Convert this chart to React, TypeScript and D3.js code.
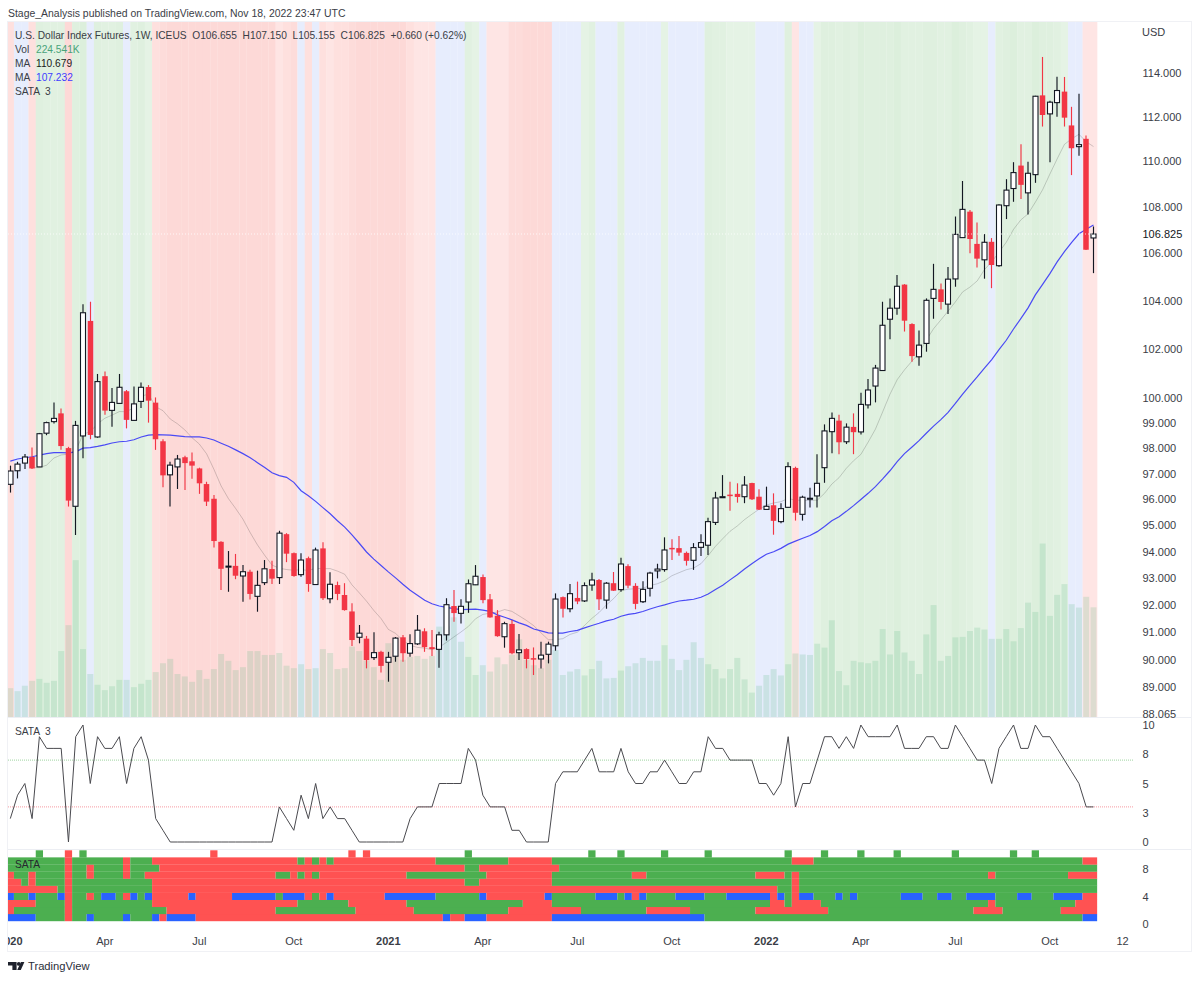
import React from "react";
import * as d3 from "d3";

const title = "Stage_Analysis published on TradingView.com, Nov 18, 2022 23:47 UTC";
const headerLine = "U.S. Dollar Index Futures, 1W, ICEUS  O106.655  H107.150  L105.155  C106.825  +0.660 (+0.62%)";

const opens = [96.58,97.11,97.41,97.65,97.26,98.59,99.05,99.38,98.00,95.73,
98.48,103.15,98.44,100.88,99.50,99.78,100.27,99.10,99.86,100.44,
99.81,98.27,96.95,97.26,97.64,97.48,97.20,96.59,96.02,94.37,
93.42,93.46,93.08,93.24,92.32,92.83,93.34,93.02,94.66,93.94,
93.13,93.75,92.76,94.12,92.23,92.74,92.37,91.76,90.81,90.76,
90.07,90.28,89.90,90.12,90.81,90.23,90.57,91.03,90.45,90.37,
90.90,91.96,91.69,92.11,92.75,93.04,92.21,91.60,90.83,91.30,
90.25,90.38,90.05,90.02,90.19,90.50,92.29,91.86,92.26,92.15,
92.74,92.93,92.18,92.81,92.57,93.45,92.71,92.12,92.62,93.27,
93.32,94.14,94.13,93.95,93.67,94.16,94.24,95.11,96.08,96.18,
96.21,96.10,96.63,96.10,95.61,95.77,95.14,95.69,97.22,95.42,
96.02,96.13,97.23,98.65,99.09,98.25,98.84,98.64,99.72,100.48,
101.11,103.22,103.68,104.67,103.02,101.67,102.22,104.09,104.47,103.85,
104.91,106.67,107.79,106.40,105.72,106.49,105.47,108.05,108.80,109.81,
108.61,109.41,112.96,112.12,112.63,113.13,111.60,110.65,111.00,106.655];

const closes = [97.10,97.37,97.65,97.20,98.57,99.01,99.18,98.08,95.95,98.90,
103.49,98.52,100.66,99.49,99.82,100.43,99.12,99.76,100.43,99.89,
98.35,96.93,97.33,97.57,97.41,97.31,96.62,95.91,94.40,93.35,
93.45,93.09,93.24,92.41,92.73,93.35,92.98,94.70,93.92,93.08,
93.68,92.78,94.06,92.25,92.77,92.41,91.81,90.71,90.96,89.98,
90.25,89.77,90.08,90.78,90.23,90.58,91.07,90.45,90.38,90.90,
92.01,91.70,91.95,92.79,93.07,92.18,91.54,90.85,91.31,90.23,
90.35,90.02,90.02,90.16,90.56,92.22,91.86,92.42,92.13,92.72,
92.93,92.21,92.81,92.53,93.53,92.72,92.04,92.58,93.19,93.34,
94.06,94.10,93.96,93.65,94.15,94.34,95.14,96.05,96.10,96.15,
96.09,96.55,96.00,95.60,95.73,95.17,95.64,97.27,95.48,96.08,
96.04,96.62,98.68,99.18,98.23,98.83,98.63,99.74,100.32,101.21,
102.97,103.68,104.60,103.16,101.70,102.15,104.01,104.47,103.94,104.90,
106.81,107.89,106.61,105.77,106.47,105.50,108.08,108.73,109.50,108.96,
109.47,112.92,112.07,112.65,113.18,111.95,110.58,110.74,106.15,106.825];

const highs = [97.31,97.46,97.77,98.02,98.60,99.05,99.82,99.58,98.05,99.08,
103.84,103.95,100.97,101.07,100.40,100.97,100.32,100.46,100.62,100.52,
100.02,98.35,97.46,97.73,97.70,97.83,97.23,96.68,96.17,94.39,
94.02,93.91,93.49,93.31,93.28,93.68,93.65,94.79,94.70,93.96,
93.94,93.81,94.15,94.35,93.22,92.87,92.81,92.06,91.26,90.86,
90.99,90.32,90.28,90.82,90.89,90.92,91.63,91.14,91.08,91.01,
92.25,92.56,92.21,92.95,93.49,93.14,92.41,91.81,91.38,91.44,
90.93,90.41,90.44,90.65,90.65,92.43,92.31,92.78,92.87,92.84,
93.20,92.97,92.85,93.23,93.77,93.52,92.81,92.88,93.24,93.54,
94.54,94.47,94.59,94.00,94.32,94.66,95.29,96.29,96.94,96.68,
96.62,96.90,96.64,96.39,96.49,96.23,95.85,97.44,97.27,96.14,
96.45,97.76,98.94,99.42,99.32,98.98,99.38,100.21,100.77,101.34,
103.95,104.09,105.08,104.69,103.05,102.75,104.09,105.55,104.72,105.42,
107.58,109.13,107.86,107.32,106.82,106.65,108.11,109.21,109.96,110.76,
109.98,112.94,114.72,112.71,113.81,113.80,112.44,113.03,111.15,107.15];

const lows = [96.26,96.81,97.18,97.18,97.26,98.51,98.98,97.93,95.72,94.63,
97.60,98.35,98.41,99.32,98.85,99.76,98.78,99.09,99.60,99.01,
97.93,96.47,95.72,96.40,96.36,96.80,96.21,95.74,94.15,92.56,
92.49,92.96,92.12,92.20,91.75,92.74,92.78,92.78,93.60,93.05,
93.05,92.49,92.75,92.18,92.06,92.18,91.79,90.49,90.59,89.68,
89.98,89.53,89.20,89.92,89.92,90.10,90.53,90.28,90.13,89.70,
90.69,91.38,91.32,91.71,92.74,92.06,91.53,90.83,90.43,90.19,
89.98,89.68,89.44,89.68,89.86,90.32,91.54,91.73,92.03,92.11,
92.53,91.81,91.86,92.52,92.49,92.62,91.84,92.07,92.31,92.99,
93.24,93.68,93.84,93.47,93.31,93.83,93.87,95.01,96.05,95.56,
95.87,95.85,95.97,95.59,95.60,94.64,95.08,95.67,95.18,95.18,
95.68,95.68,96.64,97.80,97.76,98.16,97.76,98.54,99.58,99.82,
101.09,102.39,103.41,102.71,101.47,101.30,101.88,103.24,103.63,103.44,
104.58,106.67,106.00,105.39,104.92,104.52,105.43,107.47,108.22,108.34,
107.67,109.05,111.55,109.96,111.99,111.55,109.39,110.25,106.14,105.155];

const volumesK = [59,53,64,74,78,70,74,135,188,321,
139,88,66,55,63,76,76,61,68,76,
92,110,119,88,83,72,96,78,98,129,
115,96,102,135,135,127,127,131,105,100,
108,98,100,139,131,98,100,144,135,115,
102,76,151,127,117,123,125,119,125,185,
186,204,154,123,86,106,93,122,108,127,
159,117,106,100,117,137,86,93,98,85,
98,115,79,80,95,104,110,121,115,115,
147,119,96,117,153,121,108,98,79,98,
121,77,50,64,86,98,85,108,130,128,
127,150,142,198,94,65,115,112,110,115,
180,128,176,132,115,88,169,229,115,125,
163,164,176,183,179,160,160,180,155,182,
234,215,355,207,250,272,231,224,246,224.541];

const sataScores = [2,4,5,2,9,8,8,8,0,9,
10,5,9,8,8,9,5,8,9,7,
2,1,0,0,0,0,0,0,0,0,
0,0,0,0,0,0,0,3,2,1,
4,2,5,2,3,2,2,1,0,0,
0,0,0,0,0,2,3,3,3,5,
5,5,5,8,7,4,3,3,3,1,
1,0,0,0,0,5,6,6,6,7,
8,6,6,6,8,6,5,5,6,6,
7,6,5,5,6,6,9,8,8,7,
7,7,7,5,5,4,5,9,3,5,
5,7,9,9,8,9,8,10,9,9,
9,9,10,8,8,8,9,9,8,8,
10,9,8,7,7,5,8,9,10,8,
8,10,9,9,8,7,6,5,3,3];

// Early moving-average values (their history lies before the first bar).
const slowMaEarly = [97.49,97.57,97.62,97.66,97.72,97.78,97.82,97.82,97.81,97.85,
98.0,98.02,98.07,98.13,98.20,98.25,98.27,98.33,98.44,98.51,
98.53,98.52,98.51,98.48,98.45,98.44,98.44,98.40,98.32];
const fastMaEarly = [NaN,NaN,NaN,97.23,97.23,97.33,97.61,97.73,97.76];

// SATA heat map: rows from bottom (0) to top (9), runs of bar indexes
const heatRows = [
  "b0-3 g4-7 r8 g9-10 b11 g12-15 b16 g17-19 b20 r21 b22-25 r26-59 b60 r61-62 b63-65 r66-74 b75-95 g96-147 b148-149",
  "r0 g1-7 r8 g9-21 r22-36 g37-47 r48-55 g56-68 r69-78 g79-87 r88-93 g94-102 r103-112 g113-132 r133-136 g137-144 r145-149",
  "r0-3 g4-7 r8 g9-19 r20-39 g40-46 r47-54 g55-70 r71-74 g75-104 r105-106 g107 r108-111 g112-134 r135 g136-146 r147-149",
  "b0 g1-2 b3 g4-6 b7 r8 g9-10 r11 g12 b13-14 g15 r16 b17 g18 b19 r20-24 b25 r26-30 b31-36 g37 b38-40 r41 g42 r43 b44 r45-51 b52-58 g59-64 b65 r66-73 b74 g75-80 b81-83 g84 b85 r86 b87 g88-91 b92-95 g96-98 b99-104 r105 b106 g107 r108 b109-110 g111-113 b114 g115 b116 g117-122 b123-125 g126-127 b128-129 g130-131 b132-135 g136-138 b139-140 g141-143 b144-147 r148-149",
  "r0-6 g7 r8 g9-19 r20-105 g106-107 r108 g109-149",
  "r0-1 g2 r3 g4-7 r8 g9-19 r20-62 g63-64 r65-74 g75-107 r108 g109-149",
  "r0 g1-2 r3 g4-7 r8 g9-10 r11 g12-15 r16 g17-18 r19-36 g37-38 r39 g40 r41 g42 r43-54 g55-65 r66-74 g75-85 r86-87 g88-102 r103-106 g107 r108 g109-134 r135 g136-145 r146-149",
  "g0-7 r8 g9-10 r11 g12-15 r16 g17-20 r21-62 g63-64 r65-75 g76-149",
  "g0-7 r8 g9-15 r16 g17-19 r20-39 g40 r41 g42 r43 g44 r45-58 g59-68 r69-74 g75-107 r108-110 g111-147 r148-149",
  "g4 r8 g10 r28 r47 r49 g63 g80 g84 g90 g96 g107 g112 g117 g122 g130 g138 g141",
];

const priceTicks = [114, 112, 110, 108, 106, 104, 102, 100, 99, 98, 97, 96, 95, 94, 93, 92, 91, 90, 89, 88.065];
const lastPrice = 106.825;
const sataTicks = [[10, "10"], [7.5, "8"], [5, "5"], [2.5, "3"], [0, "0"]] as [number, string][];
const heatTicks = [8, 4, 0];
const timeTicks = [[0, "2020", true], [13, "Apr", false], [26, "Jul", false], [39, "Oct", false], [52, "2021", true], [65, "Apr", false], [78, "Jul", false], [91, "Oct", false], [104, "2022", true], [117, "Apr", false], [130, "Jul", false], [143, "Oct", false], [153, "12", false]] as [number, string, boolean][];

const UP = "#131722", DOWN = "#f23645", HEAT: Record<string, string> = { g: "#4caf50", r: "#ff5252", b: "#2962ff" };
const FONT = "'Liberation Sans', Arial, sans-serif";
const TXT = "#3a3d46";

const x = d3.scaleLinear().domain([0, 149]).range([10.3, 1093.5]);
const step = x(1) - x(0);
const yP = d3.scaleLog().domain([88.065, 114]).range([713.5, 72.6]);
const yV = d3.scaleLinear().domain([0, 224.541]).range([717, 607.3]);
const yS = d3.scaleLinear().domain([0, 10]).range([842, 725]);
const yH = d3.scaleLinear().domain([0, 10]).range([921, 850.3]);
const yHLabel = d3.scaleLinear().domain([0, 8]).range([924, 869]);

function bgColor(s: number) {
  if (s <= 3) return ["#fdd9d7", "#fddcda", "#fee0de", "#fee5e4"][s];
  if (s >= 7) return ["#e5f3e5", "#e1f1e1", "#dff0df", "#dcefdc"][s - 7];
  return "#e7edfd";
}
function sma(n: number, i: number, early: number[]) {
  if (i < n - 1) return early[i];
  return d3.mean(closes.slice(i - n + 1, i + 1)) as number;
}
const parseRuns = (row: string) =>
  row.split(" ").map((t) => {
    const [a, b] = t.slice(1).split("-").map(Number);
    return { c: t[0], from: a, to: b === undefined ? a : b };
  });

export default function App() {
  const idx = d3.range(closes.length);
  const lineMA = d3.line<number>().defined((v) => !isNaN(v)).x((_, i) => x(i)).y((v) => yP(v));
  const slow = idx.map((i) => sma(30, i, slowMaEarly));
  const fast = idx.map((i) => sma(10, i, fastMaEarly));
  const sataLine = d3.line<number>().x((_, i) => x(i)).y((v) => yS(v));
  const txt = (p: any) => ({ fontFamily: FONT, fontSize: 11, fill: TXT, ...p });
  const leg = (p: any) => txt({ fontSize: 10.2, ...p });
  return (
    <svg width={1200} height={981} style={{ position: "absolute", left: 0, top: 0, background: "#fff" }}>
      <defs>
        <clipPath id="main"><rect x={8} y={22} width={1126} height={695} /></clipPath>
        <clipPath id="sub"><rect x={8} y={718} width={1126} height={131} /></clipPath>
        <clipPath id="heat"><rect x={8} y={850} width={1126} height={72} /></clipPath>
        <clipPath id="time"><rect x={8} y={925} width={1126} height={25} /></clipPath>
      </defs>
      <text {...txt({ x: 8, y: 17, fontSize: 10.45 })}>{title}</text>

      <rect x={7.5} y={21.5} width={1184} height={930} fill="none" stroke="#f0f1f5" />
      <line x1={8} x2={1191} y1={717.5} y2={717.5} stroke="#eceef3" />
      <line x1={8} x2={1191} y1={849.5} y2={849.5} stroke="#eceef3" />

      <g clipPath="url(#main)">
        {idx.map((i) => (
          <rect key={i} x={x(i) - step / 2} y={22} width={step + 0.2} height={695} fill={bgColor(sataScores[i])} />
        ))}
        {idx.map((i) => (
          <rect key={i} x={x(i) - 3} y={yV(volumesK[i])} width={6} height={717 - yV(volumesK[i])} fill="rgba(90,185,130,0.2)" />
        ))}
        <path d={lineMA(fast) || ""} fill="none" stroke="rgba(30,30,30,0.2)" strokeWidth={1} />
        <path d={lineMA(slow) || ""} fill="none" stroke="#4a4af5" strokeWidth={1.2} />
        {idx.map((i) => {
          const up = closes[i] >= opens[i];
          const col = up ? UP : DOWN;
          const top = yP(Math.max(opens[i], closes[i]));
          const bot = yP(Math.min(opens[i], closes[i]));
          const cx = Math.round(x(i) * 2) / 2;
          return (
            <g key={i}>
              <line x1={cx} x2={cx} y1={yP(highs[i])} y2={yP(lows[i])} stroke={col} strokeWidth={1.15} />
              {up ? (
                <rect x={cx - 2.5} y={top} width={5} height={Math.max(bot - top, 1)} fill="#fff" stroke={UP} strokeWidth={1.1} />
              ) : (
                <rect x={cx - 2.75} y={top} width={5.5} height={Math.max(bot - top, 1.5)} fill={DOWN} />
              )}
            </g>
          );
        })}
        <line x1={8} x2={1134} y1={yP(lastPrice)} y2={yP(lastPrice)} stroke="#fff" strokeDasharray="1 2" strokeOpacity={0.8} />
      </g>

      <text {...leg({ x: 15, y: 39 })} style={{ whiteSpace: "pre" }}>{headerLine}</text>
      <text {...leg({ x: 15, y: 53 })}>Vol</text>
      <text {...leg({ x: 36, y: 53, fill: "#4aa37a" })}>224.541K</text>
      <text {...leg({ x: 15, y: 67 })}>MA</text>
      <text {...leg({ x: 36, y: 67, fill: "#1a1a1a" })}>110.679</text>
      <text {...leg({ x: 15, y: 81 })}>MA</text>
      <text {...leg({ x: 36, y: 81, fill: "#3d3dff" })}>107.232</text>
      <text {...leg({ x: 15, y: 95 })}>SATA</text>
      <text {...leg({ x: 45, y: 95 })}>3</text>

      <text {...txt({ x: 1142, y: 36 })}>USD</text>
      {priceTicks.map((t) => (
        <text key={t} {...txt({ x: 1142.5, y: yP(t) + 4 })}>{t.toFixed(3)}</text>
      ))}
      <text {...txt({ x: 1142.5, y: yP(lastPrice) + 4, fill: "#131722" })}>{lastPrice.toFixed(3)}</text>

      <g clipPath="url(#sub)">
        <line x1={8} x2={1134} y1={yS(7)} y2={yS(7)} stroke="#4caf50" strokeOpacity={0.55} strokeDasharray="1 1" />
        <line x1={8} x2={1134} y1={yS(3)} y2={yS(3)} stroke="#f23645" strokeOpacity={0.5} strokeDasharray="1 1" />
        <path d={sataLine(sataScores) || ""} fill="none" stroke="#4a4a4f" strokeWidth={1} />
      </g>
      <text {...leg({ x: 15, y: 735 })}>SATA</text>
      <text {...leg({ x: 45, y: 735 })}>3</text>
      {sataTicks.map(([v, l]) => (
        <text key={l} {...txt({ x: 1142.5, y: yS(v) + 4 })}>{l}</text>
      ))}

      <g clipPath="url(#heat)">
        {heatRows.map((row, r) =>
          parseRuns(row).map((run, k) => (
            <rect key={r + "-" + k} x={x(run.from) - step / 2} y={yH(r + 1)} width={step * (run.to - run.from + 1)} height={yH(r) - yH(r + 1) + 0.2} fill={HEAT[run.c]} />
          ))
        )}
      </g>
      <text {...leg({ x: 15, y: 868, fill: "#25282e" })}>SATA</text>
      {heatTicks.map((t) => (
        <text key={t} {...txt({ x: 1142.5, y: yHLabel(t) + 4 })}>{t}</text>
      ))}

      <g clipPath="url(#time)">
        {timeTicks.map(([i, l, bold]) => (
          <text key={i} {...txt({ x: x(i), y: 945, textAnchor: "middle", fontWeight: bold ? 700 : 400 })}>{l}</text>
        ))}
      </g>

      <g fill="#1e222d">
        <path d="M8 962h8.6v8h-4.2v-4.6H8z" />
        <circle cx={18.8} cy={963.9} r={1.9} />
        <path d="M21 962h3.4l-3.6 8h-3.6z" />
      </g>
      <text {...txt({ x: 28, y: 970, fontSize: 11.2, fill: "#2a2e39" })}>TradingView</text>
    </svg>
  );
}
